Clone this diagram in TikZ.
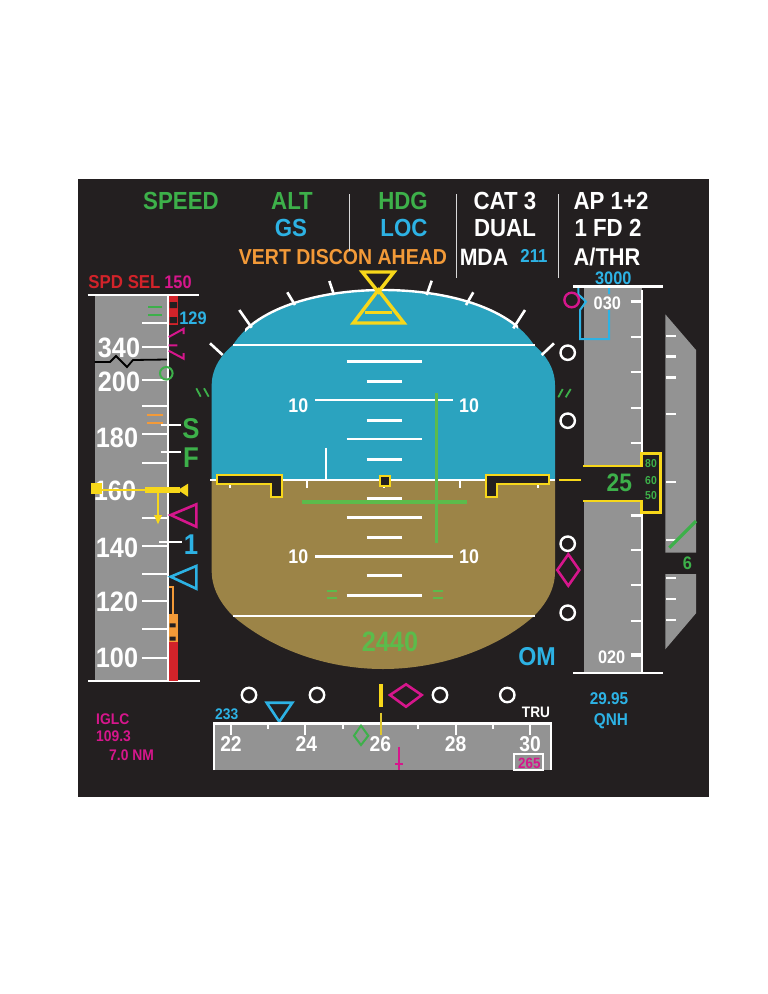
\documentclass[tikz,border=0pt]{standalone}
\usepackage{fontspec}
\setmainfont[FakeStretch=0.9]{Liberation Sans}
\definecolor{bgd}{HTML}{231F20}
\definecolor{sky}{HTML}{2BA3BF}
\definecolor{gnd}{HTML}{9C8447}
\definecolor{tape}{HTML}{939393}
\definecolor{gr}{HTML}{3DB04A}
\definecolor{lgr}{HTML}{5CBB4B}
\definecolor{cy}{HTML}{2DB2E4}
\definecolor{mg}{HTML}{D6168C}
\definecolor{rd}{HTML}{D2232A}
\definecolor{og}{HTML}{F39A38}
\definecolor{yl}{HTML}{F7D71A}
\tikzset{
  wl/.style={draw=white,line width=#1},
  wl/.default=2pt,
  outl/.style={draw=#1,line width=2.6pt,line join=miter},
  ring/.style={draw=white,line width=2.4pt},
  sym/.style={fill=bgd,draw=yl,line width=2pt},
}
\newcommand{\tx}[6]{\pgfmathsetmacro\fsz{#5*1.1}\node[inner sep=0pt,anchor=base,text=#4,font=\fontsize{\fsz}{\fsz}\selectfont\bfseries] (#1) at (#2,{#3+0.358*\fsz}) {#6};}
\newcommand{\txl}[6]{\pgfmathsetmacro\fsz{#5*1.1}\node[inner sep=0pt,anchor=base west,text=#4,font=\fontsize{\fsz}{\fsz}\selectfont\bfseries] (#1) at (#2,{#3+0.358*\fsz}) {#6};}
\begin{document}
\begin{tikzpicture}[x=1pt,y=-1pt]
\useasboundingbox (0,0) rectangle (768,994);
\fill[white] (0,0) rectangle (768,994);
\fill[bgd] (78,179) rectangle (709,797);
% annunciators
\tx{t1}{181}{201}{gr}{22.5}{SPEED}
\tx{t2}{292}{201}{gr}{22.5}{ALT}
\tx{t3}{403}{201}{gr}{22.5}{HDG}
\tx{t4}{505}{201}{white}{22.5}{CAT 3}
\tx{t5}{611}{201}{white}{22.5}{AP 1+2}
\tx{t6}{291}{228}{cy}{22.5}{GS}
\tx{t7}{404}{228}{cy}{22.5}{LOC}
\tx{t8}{505}{228}{white}{22.5}{DUAL}
\tx{t9}{608}{228}{white}{22.5}{1 FD 2}
\tx{t10}{343}{257}{og}{19.7}{VERT DISCON AHEAD}
\tx{t11}{484}{257}{white}{21.5}{MDA}
\tx{t12}{534}{256}{cy}{17}{211}
\tx{t13}{607}{257}{white}{22}{A/THR}
\draw[white!85!black,line width=1pt] (349,194)--(349,251) (456.5,194)--(456.5,278) (558,194)--(558,278);
\tx{t14}{124.5}{282}{rd}{17}{SPD SEL}
\tx{t15}{178}{282}{mg}{16.5}{150}
% speed tape
\fill[tape] (94.5,295) rectangle (167.5,681);
\foreach \y in {322.7,346.7,380,406,434,462.7,517.7,546,574,601,629,657.7}
  \draw[wl=2pt] (142,\y)--(167.5,\y);
\draw[black,line width=1.8pt] (94.5,362)--(110,362)--(116,356)--(127,367)--(133,360)--(167,359.5);
\draw[wl=2pt] (167.5,295)--(167.5,681);
\draw[wl=2.2pt] (87.5,295)--(199,295) (88,681)--(200,681);
\tx{s1}{119}{347}{white}{25.5}{340}
\tx{s2}{119}{381}{white}{25.5}{200}
\tx{s3}{117}{437}{white}{25.5}{180}
\tx{s4}{115}{490}{white}{25.5}{160}
\tx{s5}{117}{547}{white}{25.5}{140}
\tx{s6}{117}{601}{white}{25.5}{120}
\tx{s7}{117}{657}{white}{25.5}{100}
% upper red band
\fill[rd] (168.5,296) rectangle (178,325);
\fill[bgd] (169.5,302) rectangle (177,308) (169.5,317) rectangle (177,323);
\draw[gr,line width=2.2pt] (148,306.7)--(162,306.7) (148,315)--(162,315);
\tx{s8}{193}{318}{cy}{16.5}{129}
\draw[mg,line width=2pt] (168.7,337)--(183.7,328.7)--(183.7,334) (168.7,345.3)--(177.3,345.3) (168.7,350.7)--(183.7,358.7)--(183.7,353);
\draw[gr,line width=2pt] (166.3,373.3) circle (6.3);
\draw[og,line width=1.7pt] (147.3,415.3)--(163,415.3);
\draw[og,line width=2.7pt] (147.3,423)--(163,423);
\draw[wl=2pt] (160.7,425.3)--(180.7,425.3) (160.7,452.3)--(180.7,452.3);
\tx{s9}{191}{428}{gr}{26}{S}
\tx{s10}{191}{457}{gr}{26}{F}
% speed target
\fill[yl] (91.3,483.3) rectangle (102.3,494.3);
\draw[yl,line width=2pt] (102,490)--(180,490) (158,490)--(158,515);
\fill[yl] (144.7,486.7) rectangle (179.7,493.3);
\fill[yl] (178,490)--(188,483.7)--(188,496.7)--cycle;
\fill[yl] (154,515)--(162,515)--(158,524.3)--cycle;
\draw[outl=mg] (170.7,515)--(196.3,504.3)--(196.3,526.7)--cycle;
\tx{s11}{191}{544}{cy}{26}{1}
\draw[wl=2pt] (159,542)--(182,542);
\draw[outl=cy] (170.7,576.7)--(196.3,566)--(196.3,588.7)--cycle;
\draw[og,line width=1.8pt] (168.7,587)--(173,587)--(173,615);
\fill[og] (168.5,614.3) rectangle (178,641.7);
\fill[bgd] (169.5,623.3) rectangle (175.7,627.3) (169.5,636.7) rectangle (175.7,640.7);
\fill[rd] (168.5,641.7) rectangle (178,680.5);
% attitude sphere
\fill[sky] (211.7,480)--(211.7,385) .. controls (211.7,368) and (222,354) .. (233,345)
  .. controls (258,305) and (325,290) .. (383,290)
  .. controls (441,290) and (508,305) .. (534,345)
  .. controls (545,354) and (555,368) .. (555,385)--(555,480)--cycle;
\fill[gnd] (211.7,480)--(211.7,572) .. controls (212,590) and (222,605) .. (233,616)
  .. controls (270,648) and (325,669) .. (383,669)
  .. controls (441,669) and (498,648) .. (534,616)
  .. controls (545,605) and (555,590) .. (555,572)--(555,480)--cycle;
\begin{scope}
\clip (245,280) rectangle (518,345);
\draw[wl=2.4pt] (233,345) .. controls (258,305) and (325,290) .. (383,290) .. controls (441,290) and (508,305) .. (534,345);
\end{scope}
\draw[wl=2.6pt] (210,343.3)--(222.7,355) (239.3,310)--(251.7,327.7) (287.3,292.3)--(295,305) (329.3,281)--(334,295)
 (431.7,280.7)--(426.7,295) (473.3,292.3)--(466,305) (525,310)--(513.3,328.3) (554,343.3)--(541.7,355);
\draw[wl=2.6pt] (233,345)--(535,345) (233,616)--(535,616);
% pitch ladder
\draw[wl=3pt] (346.7,361.7)--(421.7,361.7) (346.7,517.3)--(421.7,517.3) (346.7,595)--(421.7,595);
\draw[wl=2pt] (346.7,439.3)--(421.7,439.3);
\draw[wl=3pt] (366.7,381)--(401.7,381) (366.7,420)--(401.7,420) (366.7,459)--(401.7,459) (366.7,498.3)--(401.7,498.3) (366.7,537.3)--(401.7,537.3) (366.7,575.7)--(401.7,575.7);
\draw[wl=2.6pt] (315,400)--(453.3,400) (315,556.7)--(453.3,556.7);
\tx{p1}{298.3}{405}{white}{18}{10}
\tx{p2}{469}{405}{white}{18}{10}
\tx{p3}{298.3}{556.5}{white}{18}{10}
\tx{p4}{469}{556.5}{white}{18}{10}
\draw[wl=1.8pt] (326,447.7)--(326,480);
\draw[wl=2pt] (210,480)--(555,480);
\draw[wl=1.8pt] (230,480)--(230,488) (306.7,480)--(306.7,488) (384,480)--(384,488) (460,480)--(460,488) (537.7,480)--(537.7,488);
\draw[yl,line width=2pt] (559.3,479.7)--(581,479.7);
\draw[sym] (217.3,475)--(281.7,475)--(281.7,496.7)--(270.7,496.7)--(270.7,484.3)--(217.3,484.3)--cycle;
\draw[sym] (549.3,475)--(485.7,475)--(485.7,496.7)--(496.7,496.7)--(496.7,484.3)--(549.3,484.3)--cycle;
\draw[sym] (380,476.3) rectangle (390,485.7);
% flight director
\draw[lgr,line width=4pt] (301.7,502)--(466.7,502);
\draw[lgr,line width=3pt] (436,393.3)--(436,543.3);
\draw[lgr,line width=1.7pt] (326.7,591)--(337.3,591) (326.7,597.7)--(337.3,597.7) (433.3,591)--(443.3,591) (433.3,597.7)--(443.3,597.7);
\tx{p5}{390}{641}{lgr}{25.5}{2440}
\tx{p6}{537}{656}{cy}{23.5}{OM}
% yellow hourglass
\draw[yl,line width=3.4pt,line join=miter] (362.3,272)--(394,272)--(378.3,292)--cycle;
\draw[yl,line width=3.4pt,line join=miter] (378.3,290)--(404,323)--(353.3,323)--cycle;
\draw[yl,line width=3pt] (365,312.7)--(391.7,312.7);
% side dots and slashes
\draw[gr,line width=1.8pt] (196.3,388.3)--(200.7,396.7) (204,388.3)--(208.7,396.7) (558.3,397.3)--(562.7,389) (565.7,397.3)--(570.7,389);
\foreach \y in {352.7,420.7,543.7,612.7} \draw[ring] (567.7,\y) circle (7.2);
\draw[outl=mg] (557.3,570)--(568.3,554.3)--(579.3,570)--(568.3,585.7)--cycle;
% altitude tape
\fill[tape] (584.3,287) rectangle (642,673);
\fill[bgd] (584.3,466) rectangle (660.7,501);
\fill[bgd] (642,453.3) rectangle (660.7,512.7);
\foreach \y in {336.7,372.3,408,443.3,550,585,621}
  \draw[wl=2pt] (630.7,\y)--(642,\y);
\foreach \y in {301.7,515.7,655}
  \draw[wl=3.2pt] (630.7,\y)--(642,\y);
\draw[wl=2.4pt] (642,290)--(642,453) (642,506.7)--(642,673);
\draw[wl=2.6pt] (573.3,286.7)--(663.3,286.7) (573.3,673)--(663.3,673);
\draw[yl,line width=2.6pt,line join=miter] (583.3,466)--(641.7,466)--(641.7,453.3)--(660.7,453.3)--(660.7,512.7)--(641.7,512.7)--(641.7,501)--(583.3,501);
\tx{a1}{619.3}{482.7}{gr}{23}{25}
\tx{a2}{651}{463.3}{gr}{10.5}{80}
\tx{a3}{651}{480}{gr}{10.5}{60}
\tx{a4}{651}{495.7}{gr}{10.5}{50}
\tx{a5}{607.3}{302.7}{white}{16.5}{030}
\tx{a6}{611.7}{656.7}{white}{16.5}{020}
\tx{a7}{613.3}{278.3}{cy}{16.5}{3000}
\draw[cy,line width=2pt,line join=miter] (578.3,288)--(578.3,294.3)--(586,301.7)--(580,310)--(580,339)--(609,339)--(609,310) (609,288)--(609,294);
\draw[mg,line width=2.4pt] (571.7,300) circle (7.3);
% vertical speed scale
\fill[tape] (665.3,314.3)--(696,350)--(696,552.7)--(665.3,552.7)--cycle;
\fill[tape] (665.3,574)--(696,574)--(696,613.3)--(665.3,649.3)--cycle;
\draw[wl=1.8pt] (666,336)--(676,336) (666,482)--(676,482) (666,540)--(676,540) (666,578)--(676,578) (666,599.3)--(676,599.3);
\draw[wl=2.6pt] (666,356.7)--(676,356.7) (666,377.7)--(676,377.7) (666,414)--(676,414) (666,620)--(676,620);
\draw[gr,line width=3.2pt] (669.3,547.7)--(696,521);
\tx{v1}{687.3}{563.3}{gr}{16.5}{6}
% bottom scale
\foreach \x in {249,317,440,507.3} \draw[ring] (\x,695) circle (7.2);
\draw[yl,line width=3.4pt] (381,684)--(381,706.7);
\draw[outl=mg] (390,695)--(406,684.3)--(421.7,695)--(406,706.7)--cycle;
\draw[outl=cy] (266.7,702.7)--(292.3,702.7)--(279.3,721.7)--cycle;
\tx{b1}{226.7}{714.3}{cy}{14}{233}
\tx{b2}{536}{711.7}{white}{13.8}{TRU}
\fill[tape] (213.3,723.3) rectangle (550.7,770);
\draw[wl=2.4pt] (213.8,770)--(213.8,723.3)--(550.7,723.3)--(550.7,770);
\foreach \x in {231,305,455.7,530} \draw[wl=1.8pt] (\x,723.3)--(\x,735);
\foreach \x in {267.7,342.7,417.7,492.7} \draw[wl=1.8pt] (\x,723.3)--(\x,729);
\draw[yl!80!gray,line width=1.8pt] (381,712.7)--(381,735);
\tx{h1}{231}{744.3}{white}{19.5}{22}
\tx{h2}{306.3}{744.3}{white}{19.5}{24}
\tx{h3}{380.3}{744.3}{white}{19.5}{26}
\tx{h4}{455.7}{744.3}{white}{19.5}{28}
\tx{h5}{530}{744.3}{white}{19.5}{30}
\draw[gr,line width=2pt] (354,735.7)--(361,725.7)--(368.3,735.7)--(361,745)--cycle;
\draw[mg,line width=1.7pt] (399,746.7)--(399,770) (395,764)--(403.3,764);
\draw[white,line width=1.8pt,fill=tape] (514.3,754.3) rectangle (543.3,770.3);
\tx{h6}{529.3}{762.8}{mg}{13.5}{265}
% bottom text
\txl{l1}{96}{719}{mg}{14}{IGLC}
\txl{l2}{96}{736}{mg}{14}{109.3}
\txl{l3}{109}{755}{mg}{14}{7.0 NM}
\tx{q1}{609}{698}{cy}{15.5}{29.95}
\tx{q2}{611}{719}{cy}{15.5}{QNH}
\end{tikzpicture}
\end{document}
